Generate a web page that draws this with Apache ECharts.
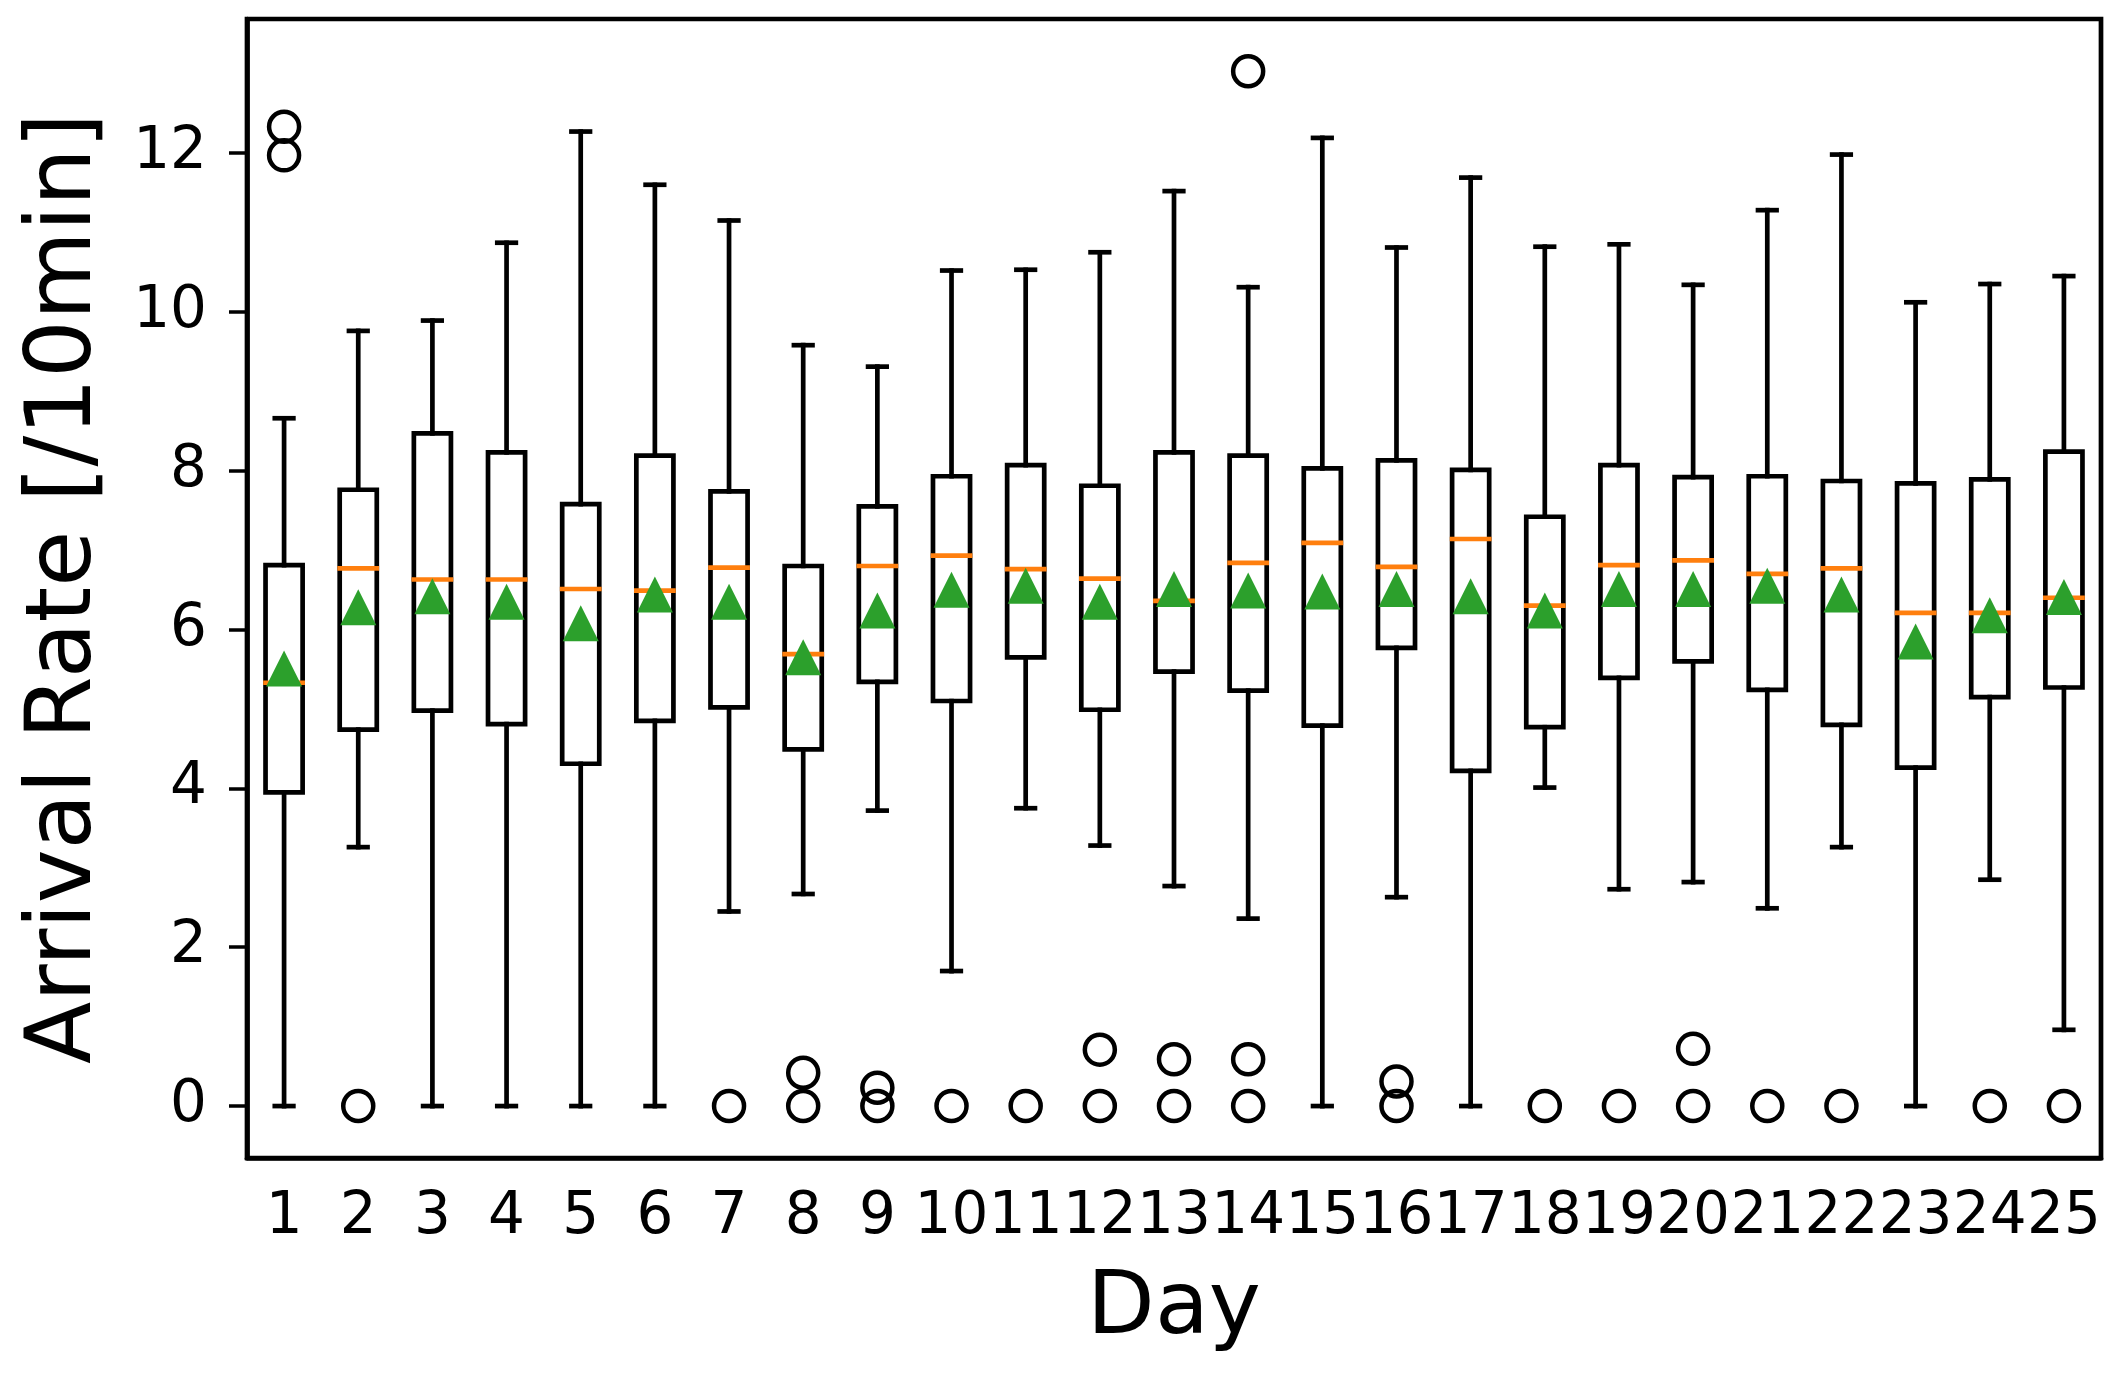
<!DOCTYPE html>
<html>
<head>
<meta charset="utf-8">
<script src="https://cdn.jsdelivr.net/npm/echarts@6/dist/echarts.min.js"></script>
<style>
html,body{margin:0;padding:0;background:#fff;}
#chart{width:2120px;height:1375px;}
</style>
</head>
<body>
<div id="chart"></div>
<script>
const days = ['1','2','3','4','5','6','7','8','9','10','11','12','13','14','15','16','17','18','19','20','21','22','23','24','25'];
const lowWhisker = [0, 3.26, 0, 0, 0, 0, 2.45, 2.67, 3.72, 1.70, 3.75, 3.28, 2.77, 2.36, 0, 2.63, 0, 4.01, 2.73, 2.82, 2.49, 3.26, 0, 2.85, 0.96];
const q1 = [3.95, 4.74, 4.98, 4.81, 4.31, 4.85, 5.02, 4.49, 5.34, 5.10, 5.65, 4.99, 5.47, 5.23, 4.79, 5.77, 4.22, 4.77, 5.39, 5.60, 5.24, 4.80, 4.26, 5.15, 5.27];
const median = [5.33, 6.77, 6.63, 6.63, 6.51, 6.49, 6.78, 5.69, 6.80, 6.93, 6.76, 6.64, 6.36, 6.84, 7.09, 6.79, 7.14, 6.30, 6.81, 6.87, 6.70, 6.77, 6.21, 6.21, 6.40];
const q3 = [6.81, 7.76, 8.47, 8.23, 7.58, 8.19, 7.74, 6.80, 7.55, 7.93, 8.07, 7.81, 8.23, 8.19, 8.03, 8.13, 8.01, 7.42, 8.07, 7.92, 7.93, 7.87, 7.84, 7.89, 8.24];
const highWhisker = [8.66, 9.76, 9.89, 10.87, 12.27, 11.60, 11.15, 9.58, 9.31, 10.52, 10.53, 10.75, 11.52, 10.31, 12.19, 10.81, 11.69, 10.82, 10.85, 10.34, 11.28, 11.98, 10.12, 10.35, 10.45];
const means = [5.51, 6.28, 6.42, 6.35, 6.08, 6.44, 6.35, 5.65, 6.24, 6.50, 6.55, 6.35, 6.51, 6.49, 6.48, 6.51, 6.42, 6.24, 6.51, 6.51, 6.55, 6.44, 5.85, 6.18, 6.41];
// outliers: [day label, value]
const outlierDays = ['1','1','2','7','8','8','9','9','10','11','12','12','13','13','14','14','14','16','16','18','19','20','20','21','22','24','25'];
const outlierValues = [12.33, 11.97, 0, 0, 0, 0.42, 0, 0.23, 0, 0, 0, 0.71, 0, 0.59, 13.03, 0.59, 0, 0, 0.31, 0, 0, 0, 0.72, 0, 0, 0, 0];
const yTicks = [0, 2, 4, 6, 8, 10, 12];

const boxData = days.map((d, i) => [i, lowWhisker[i], q1[i], median[i], q3[i], highWhisker[i]]);
const meanData = days.map((d, i) => [i, means[i]]);
const outlierData = outlierDays.map((d, k) => [days.indexOf(d), outlierValues[k]]);

const LW = 4.7;
function renderBox(params, api) {
  const i = api.value(0);
  const pLo = api.coord([i, api.value(1)]);
  const pQ1 = api.coord([i, api.value(2)]);
  const pMed = api.coord([i, api.value(3)]);
  const pQ3 = api.coord([i, api.value(4)]);
  const pHi = api.coord([i, api.value(5)]);
  const band = api.size([1, 0])[0];
  const bw = band * 0.5, cw = band * 0.25;
  const x = pMed[0];
  const black = {stroke: '#000', lineWidth: LW, fill: 'transparent', lineCap: 'square', lineJoin: 'miter'};
  return {
    type: 'group',
    children: [
      {type: 'line', shape: {x1: x, y1: pQ1[1], x2: x, y2: pLo[1]}, style: black},
      {type: 'line', shape: {x1: x, y1: pQ3[1], x2: x, y2: pHi[1]}, style: black},
      {type: 'line', shape: {x1: x - cw / 2, y1: pLo[1], x2: x + cw / 2, y2: pLo[1]}, style: black},
      {type: 'line', shape: {x1: x - cw / 2, y1: pHi[1], x2: x + cw / 2, y2: pHi[1]}, style: black},
      {type: 'rect', shape: {x: x - bw / 2, y: pQ3[1], width: bw, height: pQ1[1] - pQ3[1]}, style: black},
      {type: 'line', shape: {x1: x - bw / 2, y1: pMed[1], x2: x + bw / 2, y2: pMed[1]}, style: {stroke: '#ff7f0e', lineWidth: LW, lineCap: 'square'}}
    ]
  };
}

const FONT = 'DejaVu Sans';
const chart = echarts.init(document.getElementById('chart'), null, {renderer: 'canvas'});
chart.setOption({
  animation: false,
  backgroundColor: '#fff',
  grid: {left: 247, right: 19, top: 19, bottom: 217, show: true, borderColor: '#000', borderWidth: LW, backgroundColor: 'transparent'},
  xAxis: {
    type: 'category',
    data: days,
    boundaryGap: true,
    name: 'Day',
    nameLocation: 'middle',
    nameGap: 108,
    nameTextStyle: {fontFamily: FONT, fontSize: 88, color: '#000'},
    axisLine: {onZero: false, lineStyle: {color: '#000', width: LW}},
    axisTick: {alignWithLabel: true, length: 18, lineStyle: {color: '#000', width: 3.5}},
    axisLabel: {interval: 0, fontFamily: FONT, fontSize: 58, color: '#000', margin: 31, hideOverlap: false},
    splitLine: {show: false}
  },
  yAxis: {
    type: 'value',
    min: -0.654,
    max: 13.687,
    name: 'Arrival Rate [/10min]',
    nameLocation: 'middle',
    nameGap: 135,
    nameRotate: 90,
    nameTextStyle: {fontFamily: FONT, fontSize: 91, color: '#000'},
    axisLine: {show: true, lineStyle: {color: '#000', width: LW}},
    axisTick: {show: true, length: 18, customValues: yTicks, lineStyle: {color: '#000', width: 3.5}},
    axisLabel: {fontFamily: FONT, fontSize: 58, color: '#000', margin: 40, customValues: yTicks},
    splitLine: {show: false}
  },
  series: [
    {
      type: 'custom',
      renderItem: renderBox,
      encode: {x: 0, y: [1, 2, 3, 4, 5]},
      data: boxData,
      z: 2
    },
    {
      type: 'scatter',
      symbol: 'triangle',
      symbolSize: 36,
      itemStyle: {color: '#2ca02c', opacity: 1},
      data: meanData,
      z: 3
    },
    {
      type: 'scatter',
      symbol: 'circle',
      symbolSize: 30,
      itemStyle: {color: 'transparent', borderColor: '#000', borderWidth: 4.5, opacity: 1},
      data: outlierData,
      z: 4
    }
  ]
});
</script>
</body>
</html>
